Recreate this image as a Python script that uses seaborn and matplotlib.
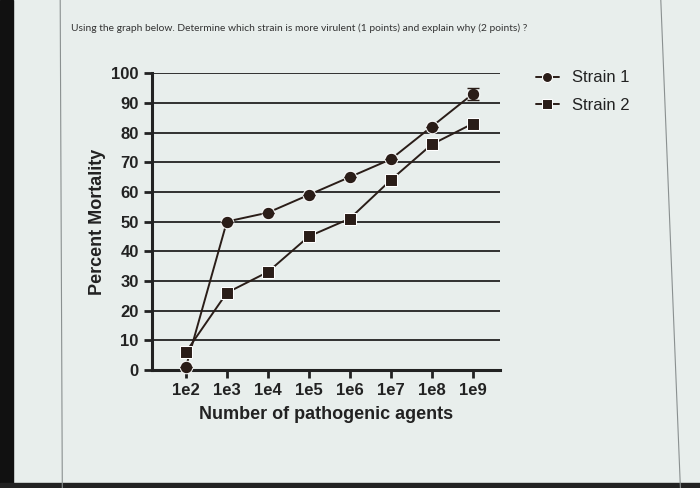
import matplotlib
matplotlib.use('Agg')
import matplotlib.pyplot as plt
import seaborn as sns
import pandas as pd

# values
doses = [1e2, 1e3, 1e4, 1e5, 1e6, 1e7, 1e8, 1e9]
dose_labels = ['1e2', '1e3', '1e4', '1e5', '1e6', '1e7', '1e8', '1e9']
strain1 = [1, 50, 53, 59, 65, 71, 82, 93]
strain2 = [6, 26, 33, 45, 51, 64, 76, 83]
strain1_err = [0, 0, 0, 0, 0, 0, 0, 2]

df = pd.DataFrame({
    'dose': doses * 2,
    'mortality': strain1 + strain2,
    'strain': ['Strain 1'] * 8 + ['Strain 2'] * 8,
})

sns.set_style('white')
plt.rcParams['font.family'] = ['Liberation Sans', 'DejaVu Sans']

fig = plt.figure(figsize=(7, 4.88), dpi=100)
fig.patch.set_facecolor('#e8eeec')
ax = fig.add_axes([0.217, 0.242, 0.497, 0.608])
ax.set_facecolor('none')

# page decoration from the photo
fig.patches.append(plt.Rectangle((0, 0), 0.018, 1, transform=fig.transFigure,
                                 color='#111111', zorder=0))
fig.patches.append(plt.Rectangle((0, 0), 1, 0.01, transform=fig.transFigure,
                                 color='#222222', zorder=0))
fig.lines.append(plt.Line2D([0.086, 0.089], [1, 0], transform=fig.transFigure,
                            color='#8a9090', lw=0.8))
fig.lines.append(plt.Line2D([0.944, 0.972], [1, 0], transform=fig.transFigure,
                            color='#8a9090', lw=0.8))
fig.text(0.102, 0.942, 'Using the graph below. Determine which strain is more virulent (1 points) '
         'and explain why (2 points) ?', fontsize=7.4, color='#333333', va='center',
         family=['Lato', 'DejaVu Sans'])

for yv in range(10, 101, 10):
    ax.axhline(yv, color='#222222', lw=1.3, zorder=1)

sns.lineplot(data=df, x='dose', y='mortality', hue='strain', style='strain',
             markers={'Strain 1': 'o', 'Strain 2': 's'}, dashes=False,
             palette={'Strain 1': '#2a1d18', 'Strain 2': '#2a1d18'},
             markersize=9, lw=1.4, ax=ax, clip_on=False, zorder=3)
ax.errorbar(doses, strain1, yerr=strain1_err, fmt='none', ecolor='#2a1d18',
            capsize=4, lw=1.3, zorder=3)

ax.set_xscale('log')
ax.set_xlim(10 ** 1.17, 10 ** 9.66)
ax.set_ylim(0, 100)
ax.set_xticks(doses)
ax.set_xticklabels(dose_labels)
ax.minorticks_off()
ax.set_yticks(range(0, 101, 10))
ax.tick_params(axis='both', direction='out', length=6, width=2, color='#222222',
               labelsize=12, labelcolor='#222222', bottom=True, left=True)
for lab in ax.get_xticklabels() + ax.get_yticklabels():
    lab.set_fontweight('bold')
for s in ['top', 'right']:
    ax.spines[s].set_visible(False)
for s in ['left', 'bottom']:
    ax.spines[s].set_linewidth(2.2)
    ax.spines[s].set_color('#222222')

ax.set_xlabel('Number of pathogenic agents', fontsize=13, color='#222222', labelpad=6,
              fontweight='bold')
ax.set_ylabel('Percent Mortality', fontsize=13, color='#222222', labelpad=4,
              fontweight='bold')

leg = ax.legend(loc='upper left', bbox_to_anchor=(1.06, 1.06), frameon=False, fontsize=12,
                handlelength=1.4, labelspacing=0.75, labelcolor='#222222', markerscale=0.8)

fig.savefig('out.png', dpi=100)
